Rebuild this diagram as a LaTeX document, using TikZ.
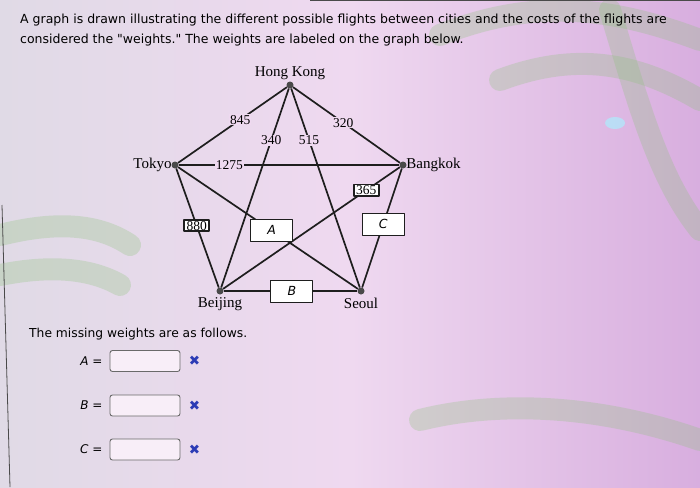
\documentclass[tikz,border=0pt]{standalone}
\usepackage{fontspec}
\setmainfont{Liberation Serif}
\newfontfamily\uisans{DejaVu Sans}
\newfontfamily\uisym{DejaVu Sans}
\definecolor{bgmid}{HTML}{EFD9F0}
\definecolor{bgleft}{HTML}{E0DAE6}
\definecolor{bgright}{HTML}{D8AEDF}
\definecolor{moiregreen}{HTML}{8CC27A}
\definecolor{dotgray}{HTML}{4A4A4A}
\definecolor{inkline}{HTML}{1E1E1E}
\definecolor{wrongblue}{HTML}{2B3BB5}
\definecolor{fieldgray}{HTML}{6A6A6A}

\begin{document}
\begin{tikzpicture}[
  x=1pt,
  y=-1pt,
  line join=round,
  city/.style={circle,fill=dotgray,inner sep=0pt,minimum size=7pt},
  citytext/.style={font=\fontsize{15}{15}\selectfont,inner sep=1pt},
  flight/.style={draw=inkline,line width=1.7pt},
  weight/.style={fill=bgmid,inner sep=0.8pt,font=\fontsize{13.5}{13.5}\selectfont},
  knownbox/.style={draw=inkline,line width=1.8pt,fill=white,inner xsep=2.5pt,inner ysep=1.2pt,
    font=\fontsize{13.5}{13.5}\selectfont},
  unknownbox/.style={draw=inkline,line width=1pt,fill=white,minimum width=42pt,
    minimum height=22pt,inner sep=0pt,font=\uisans\itshape\fontsize{12.5}{12.5}\selectfont},
  prompt/.style={font=\uisans\fontsize{12.5}{12.5}\selectfont,inner sep=0pt,anchor=base west},
  field/.style={draw=fieldgray,line width=0.9pt,rounded corners=2.5pt,fill=white!55!bgmid,
    minimum width=70pt,minimum height=21pt,inner sep=0pt},
  fieldname/.style={font=\uisans\fontsize{12}{12}\selectfont,inner sep=0pt,anchor=east},
  wrongmark/.style={font=\uisym\bfseries\fontsize{13.5}{13.5}\selectfont,text=wrongblue,inner sep=0pt}
]
  % Photographed screen: fix the 700x487 frame.
  \useasboundingbox (0,0) rectangle (700,487);
  \shade[left color=bgleft,right color=bgright,middle color=bgmid] (0,0) rectangle (700,487);

  % Moire streaks and glare of the photo.
  \begin{scope}[moiregreen,opacity=0.28,line width=22pt,line cap=round]
    \draw (440,35) .. controls (540,-5) and (620,10) .. (700,40);
    \draw (500,80) .. controls (580,50) and (640,65) .. (700,100);
    \draw (610,10) .. controls (640,110) and (660,180) .. (700,230);
    \draw (0,235) .. controls (60,220) and (100,225) .. (130,245);
    \draw (0,275) .. controls (50,265) and (90,268) .. (120,285);
    \draw (420,420) .. controls (500,400) and (600,405) .. (700,440);
  \end{scope}
  \fill[white!70!cyan,opacity=0.8] (615,123) ellipse[x radius=10pt,y radius=6pt];
  \draw[dotgray,line width=0.8pt] (2,205) -- (10,487);
  \draw[dotgray,line width=1.5pt] (310,0.5) -- (700,0.5);

  % Question text.
  \node[prompt] (introOne) at (20,24) {A graph is drawn illustrating the different possible flights between cities and the costs of the flights are};
  \node[prompt] (introTwo) at (20,44) {considered the "weights." The weights are labeled on the graph below.};

  % Cities.
  \node[city,label={[citytext]above:Hong Kong}] (hongKong) at (290,85) {};
  \node[city,label={[citytext,label distance=-1.5pt]left:Tokyo}] (tokyo) at (175,165) {};
  \node[city,label={[citytext,label distance=-1.5pt]right:Bangkok}] (bangkok) at (403,165) {};
  \node[city,label={[citytext,label distance=2pt]below:Beijing}] (beijing) at (220,291) {};
  \node[city,label={[citytext,label distance=2pt]below:Seoul}] (seoul) at (361,291) {};

  % Flights with their weights.
  \draw[flight] (hongKong) -- node[weight,pos=0.43] {845} (tokyo);
  \draw[flight] (hongKong) -- node[weight,pos=0.47] {320} (bangkok);
  \draw[flight] (hongKong) -- node[weight,pos=0.26] {340} (beijing);
  \draw[flight] (hongKong) -- node[weight,pos=0.26] {515} (seoul);
  \draw[flight] (tokyo) -- node[weight,pos=0.23] {1275} (bangkok);
  \draw[flight] (tokyo) -- node[knownbox,pos=0.48] {880} (beijing);
  \draw[flight] (bangkok) -- node[knownbox,pos=0.19] {365} (beijing);
  \draw[flight] (tokyo) -- node[unknownbox,pos=0.52] {A} (seoul);
  \draw[flight] (beijing) -- node[unknownbox,pos=0.51] {B} (seoul);
  \draw[flight] (bangkok) -- node[unknownbox,pos=0.47] {C} (seoul);

  % Answer fields.
  \node[prompt,font=\uisans\fontsize{12.3}{12.3}\selectfont] (missingText) at (29,337) {The missing weights are as follows.};
  \foreach \letter/\row in {A/361,B/405.5,C/449.5}{
    \node[field] (field\letter) at (145,\row) {};
    \node[fieldname] (name\letter) at ([xshift=-7pt]field\letter.west) {\textit{\letter} =};
    \node[wrongmark] (mark\letter) at ([xshift=14pt]field\letter.east) {✖};
  }
\end{tikzpicture}
\end{document}
